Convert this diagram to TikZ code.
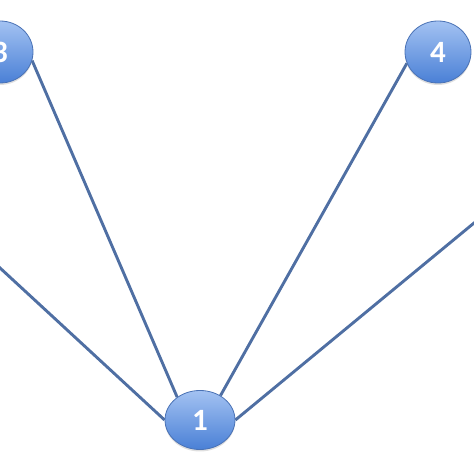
\documentclass[tikz,border=0pt]{standalone}
\usepackage{fontspec}
\setmainfont{Carlito}
\usetikzlibrary{shadows,shapes.geometric,backgrounds}
\definecolor{edgeblue}{HTML}{4F6FA3}
\definecolor{nodetop}{HTML}{A3C2F2}
\definecolor{nodebot}{HTML}{4A80D6}
\definecolor{nodeborder}{HTML}{4A72B5}
\tikzset{
  vertex/.style={ellipse, draw=nodeborder, line width=0.8pt,
    top color=nodetop, bottom color=nodebot, inner sep=0pt,
    minimum width=#1, text=white, font=\fontsize{31}{31}\selectfont\bfseries,
    drop shadow={shadow xshift=0pt, shadow yshift=-2pt, opacity=0.25}},
  link/.style={draw=edgeblue, line width=2.9pt},
}
\begin{document}
\begin{tikzpicture}[x=1pt,y=1pt]
\useasboundingbox (0,0) rectangle (474,474);
\clip (0,0) rectangle (474,474);
\coordinate (offl) at (-40,243);
\coordinate (offr) at (514,284);
\node[vertex=70pt, minimum height=59pt] (n1) at (200,54) {1};
\node[vertex=66pt, minimum height=62pt] (n3) at (0,422) {3};
\node[vertex=66pt, minimum height=62pt] (n4) at (438,422) {4};
\begin{scope}[on background layer]
\draw[link] (n3.-15) -- (n1.135);
\draw[link] (n4.200) -- (n1.50);
\draw[link] (offl) -- (n1.west);
\draw[link] (offr) -- (n1.east);
\end{scope}
\end{tikzpicture}
\end{document}
